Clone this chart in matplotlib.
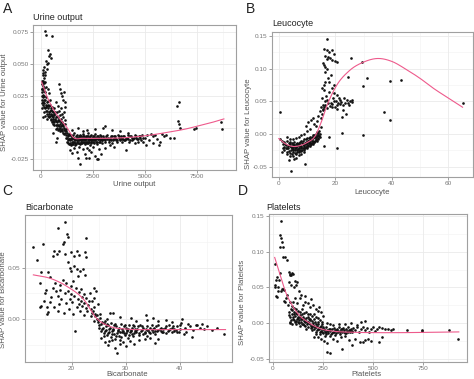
import numpy as np
import matplotlib
matplotlib.use("Agg")
import matplotlib.pyplot as plt

plt.rcParams['font.family'] = ['Liberation Sans', 'DejaVu Sans']

# ---------------- Data ----------------
urine_points = [
    (60,0.037),(80,0.033),(100,0.030),(120,0.026),(90,0.024),(150,0.025),(60,0.022),(110,0.020),(180,0.028),(200,0.022),
    (220,0.018),(130,0.016),(250,0.024),(260,0.016),(280,0.020),(300,0.013),(160,0.012),(320,0.018),(350,0.015),(380,0.011),
    (400,0.017),(420,0.013),(440,0.009),(460,0.015),(480,0.011),(500,0.007),(520,0.013),(540,0.010),(560,0.005),(580,0.012),
    (100,0.008),(200,0.009),(300,0.007),(150,0.035),(250,0.032),(350,0.030),(400,0.027),(450,0.022),(120,0.041),(80,0.045),
    (130,0.048),(200,0.044),(250,0.052),(300,0.046),(170,0.039),(210,0.036),
    (190,0.076),(240,0.073),(510,0.072),(320,0.061),(430,0.058),(400,0.056),(460,0.055),(350,0.051),(270,0.050),(110,0.043),
    (190,0.041),(80,0.037),
    (30,0.034),(40,0.025),(60,0.030),(70,0.019),(100,0.036),(130,0.031),(160,0.029),(50,0.015),
    (50,0.030),(70,0.028),(90,0.018),(140,0.022),(170,0.019),(190,0.015),(230,0.013),(270,0.011),(290,0.017),(330,0.009),
    (360,0.021),(390,0.008),(410,0.012),(430,0.018),(470,0.006),(490,0.014),(510,0.004),(530,0.009),(550,0.016),(570,0.003),
    (590,0.007),(610,0.011),(640,0.002),(660,0.007),(690,0.012),(710,-0.001),(730,0.005),(770,0.009),(790,0.002),(810,-0.002),
    (830,0.008),(860,0.001),(890,0.006),(910,-0.003),(940,0.001),(970,0.007),(990,-0.001),(1020,0.004),(1040,-0.004),(1080,0.003),
    (1120,-0.005),(1140,0.003),(1170,-0.002),(1190,-0.008),(1210,-0.003),(1240,-0.011),(1260,-0.004),(1290,-0.010),(1310,-0.007),(1340,-0.013),
    (600,0.008),(620,0.004),(650,0.010),(680,0.006),(700,0.002),(720,0.008),(750,0.004),(780,0.000),(800,0.006),(820,0.002),
    (850,0.005),(880,-0.001),(900,0.003),(920,0.000),(950,0.004),(980,-0.002),(1000,0.002),(1030,-0.003),(1060,0.001),(1100,-0.002),
    (1130,0.000),(1160,-0.004),(1200,-0.001),(1220,-0.006),(650,0.015),(700,0.020),(750,0.012),(800,0.017),(850,0.013),(900,0.010),
    (950,0.015),(1000,0.011),(1050,0.008),(1100,0.012),(1150,0.006),(900,0.030),(950,0.027),(1000,0.025),(1050,0.022),(1100,0.028),
    (1150,0.020),(880,0.034),(1180,0.016),(700,-0.011),(600,-0.004),(760,-0.008),
    (1250,-0.008),(1300,-0.012),(1350,-0.005),(1400,-0.010),(1450,-0.014),(1500,-0.007),(1550,-0.011),(1600,-0.004),(1650,-0.009),(1700,-0.013),
    (1750,-0.006),(1800,-0.010),(1850,-0.015),(1900,-0.008),(1950,-0.012),(2000,-0.005),(2050,-0.009),(2100,-0.013),(2150,-0.007),(2200,-0.011),
    (2250,-0.004),(2300,-0.009),(2350,-0.014),(2400,-0.006),(2450,-0.010),(2500,-0.008),(2550,-0.012),(2600,-0.005),(2650,-0.009),(2700,-0.013),
    (2750,-0.007),(2800,-0.011),(2850,-0.006),(2900,-0.009),(2950,-0.012),(3000,-0.007),(3100,-0.010),(3200,-0.006),(3300,-0.009),(3400,-0.012),
    (3500,-0.007),(3600,-0.010),(3700,-0.006),(3800,-0.009),(3900,-0.011),(4000,-0.007),(4100,-0.009),(4200,-0.006),(4300,-0.010),(4400,-0.008),
    (4500,-0.006),(4600,-0.009),(4700,-0.007),(4800,-0.010),(4900,-0.008),
    (1280,-0.006),(1330,-0.009),(1380,-0.013),(1430,-0.008),(1480,-0.011),(1530,-0.006),(1580,-0.009),(1630,-0.012),(1680,-0.007),(1730,-0.010),
    (1780,-0.008),(1830,-0.012),(1880,-0.006),(1930,-0.010),(1980,-0.008),(2030,-0.011),(2080,-0.007),(2130,-0.010),(2180,-0.008),(2230,-0.012),
    (2280,-0.007),(2330,-0.010),(2380,-0.008),(2430,-0.011),(2480,-0.007),(2530,-0.010),(2580,-0.008),(2630,-0.011),(2680,-0.007),(2730,-0.009),
    (2780,-0.008),(2830,-0.010),(2880,-0.007),(2930,-0.010),(2980,-0.008),(3050,-0.009),(3150,-0.008),(3250,-0.011),(3350,-0.007),(3450,-0.009),
    (3550,-0.008),(3650,-0.011),(3750,-0.008),(3850,-0.007),(3950,-0.009),(4050,-0.010),(4150,-0.008),(4250,-0.011),(4350,-0.007),(4450,-0.009),
    (4550,-0.008),(4650,-0.011),(4750,-0.007),
    (1360,-0.009),(1390,-0.006),(1410,-0.012),(1440,-0.009),(1460,-0.006),(1490,-0.013),(1510,-0.009),(1540,-0.008),(1560,-0.013),(1590,-0.011),
    (1610,-0.008),(1640,-0.010),(1660,-0.014),(1690,-0.009),(1710,-0.011),(1740,-0.008),(1760,-0.012),(1790,-0.009),(1810,-0.007),(1840,-0.010),
    (1860,-0.013),(1890,-0.009),(1910,-0.011),(1940,-0.007),(1960,-0.010),(1990,-0.012),(2010,-0.009),(2040,-0.007),(2060,-0.011),(2090,-0.009),
    (2110,-0.012),(2140,-0.008),(2160,-0.011),(2190,-0.009),(2210,-0.007),(2240,-0.010),(2260,-0.012),(2290,-0.008),(2310,-0.011),(2340,-0.009),
    (2360,-0.007),(2390,-0.010),(2410,-0.012),(2440,-0.008),(2460,-0.009),(2490,-0.011),(2520,-0.009),(2560,-0.007),(2610,-0.010),(2660,-0.008),
    (2710,-0.011),(2760,-0.009),(2810,-0.008),(2860,-0.011),(2910,-0.008),(2960,-0.010),(3020,-0.008),(3080,-0.011),(3130,-0.007),(3180,-0.009),
    (3230,-0.008),(3280,-0.010),(3330,-0.008),(3380,-0.010),(3430,-0.007),(3480,-0.010),(3530,-0.009),(3580,-0.007),(3630,-0.009),(3680,-0.010),
    (3730,-0.007),(3780,-0.010),(3830,-0.008),(3880,-0.009),(3930,-0.007),(3980,-0.010),(4080,-0.008),(4180,-0.009),(4280,-0.007),(4380,-0.010),
    (4480,-0.008),(4580,-0.007),(4680,-0.009),(4780,-0.008),(4880,-0.006),
    (1400,-0.018),(1500,-0.020),(1600,-0.016),(1750,-0.019),(1900,-0.029),(2000,-0.017),(2100,-0.021),(2200,-0.016),(2300,-0.024),(2400,-0.019),
    (2500,-0.015),(2600,-0.022),(2700,-0.025),(2800,-0.017),(2900,-0.021),(2750,-0.025),(3100,-0.016),(3300,-0.014),(3500,-0.015),(4100,-0.018),
    (4500,-0.012),(1800,-0.024),(2300,-0.018),(2150,-0.024),
    (1500,-0.002),(1800,0.000),(2200,-0.002),(2600,-0.001),(3000,0.000),(3100,0.001),(3400,-0.002),(3800,-0.003),(4200,-0.004),(2000,-0.003),
    (5000,-0.008),(5100,-0.006),(5200,-0.010),(5300,-0.005),(5400,-0.007),(5500,-0.006),(5600,-0.009),(5700,-0.014),(5800,-0.005),(5900,-0.007),
    (6000,-0.006),(6200,-0.008),(6400,-0.008),(6550,0.017),(6660,0.020),(6600,0.005),(6650,0.003),(6700,0.000),(7350,-0.001),(7470,0.000),
    (8650,0.004),(8700,-0.001),(5750,-0.011),(5400,-0.012),(4900,-0.011),(5050,-0.014),
]
urine_curve_x = [30, 250, 575, 1000, 1250, 1530, 2000, 2500, 3000, 4000, 5000, 6000, 7000, 7500, 8000, 8800]
urine_curve_y = [0.036, 0.026, 0.015, 0.005, 0.000, -0.0073, -0.0085, -0.0085, -0.0085, -0.008, -0.0065, -0.004, -0.001, 0.001, 0.003, 0.0068]

leuco_points = [
    (1,-0.010),(1.5,-0.015),(2,-0.012),(2,-0.020),(2.5,-0.017),(3,-0.010),(3,-0.022),(3.5,-0.014),(3.5,-0.026),(4,-0.018),
    (4,-0.012),(4.5,-0.022),(4.5,-0.030),(5,-0.015),(5,-0.020),(5,-0.027),(5.5,-0.018),(5.5,-0.012),(6,-0.022),(6,-0.016),
    (6,-0.030),(6.5,-0.019),(6.5,-0.025),(7,-0.013),(7,-0.021),(7,-0.028),(7.5,-0.017),(7.5,-0.024),(8,-0.010),(8,-0.019),
    (8,-0.026),(8.5,-0.015),(8.5,-0.022),(9,-0.008),(9,-0.017),(9,-0.025),(9.5,-0.012),(9.5,-0.020),(10,-0.006),(10,-0.014),
    (10,-0.022),(10.5,-0.010),(10.5,-0.017),(11,-0.004),(11,-0.012),(11,-0.019),(11.5,-0.008),(11.5,-0.015),(12,-0.002),(12,-0.010),
    (12,-0.016),(12.5,-0.005),(12.5,-0.012),(13,0.000),(13,-0.008),(13.5,-0.003),(13.5,-0.010),(14,0.002),(14,-0.006),(14.5,0.000),
    (2,-0.025),(3,-0.030),(4,-0.034),(5,-0.033),(6,-0.036),(7,-0.032),(8,-0.030),(9,-0.028),(3,-0.005),(4,-0.007),
    (5,-0.008),(6,-0.006),(7,-0.004),(8,-0.002),(9,0.000),(10,0.005),(11,0.008),(9.5,0.012),(10.5,0.018),(11.5,0.022),
    (12,0.025),(12.5,0.015),(13,0.012),(13.5,0.020),(14,0.028),(14.5,0.035),(15,0.025),(14.8,0.042),(15.5,0.045),(15.2,0.055),
    (2.5,-0.022),(3.2,-0.018),(4.2,-0.024),(4.8,-0.018),(5.2,-0.023),(5.8,-0.025),(6.2,-0.020),(6.8,-0.015),(7.2,-0.018),(7.8,-0.020),
    (8.2,-0.014),(8.8,-0.018),(9.2,-0.013),(9.8,-0.016),(10.2,-0.010),(10.8,-0.013),(11.2,-0.009),(11.8,-0.011),(12.2,-0.006),(12.8,-0.004),
    (13.2,-0.005),(13.8,-0.001),(14.2,-0.003),
    (1.5,-0.021),(2.2,-0.016),(2.8,-0.027),(3.3,-0.021),(3.8,-0.016),(3.8,-0.029),(4.3,-0.020),(4.6,-0.014),(4.9,-0.025),(5.3,-0.017),
    (5.6,-0.029),(5.9,-0.021),(6.3,-0.027),(6.6,-0.014),(6.9,-0.023),(7.3,-0.026),(7.6,-0.012),(7.9,-0.022),(8.3,-0.024),(8.6,-0.010),
    (8.9,-0.021),(9.3,-0.022),(9.6,-0.008),(9.9,-0.019),(10.3,-0.019),(10.6,-0.006),(10.9,-0.016),(11.3,-0.015),(11.6,-0.004),(11.9,-0.013),
    (12.3,-0.012),(12.6,-0.001),(12.9,-0.010),(13.3,-0.009),(13.6,0.003),(13.9,-0.007),(14.3,0.005),(14.6,-0.004),(14.9,0.010),(15.2,0.030),
    (15.6,0.038),(16.2,0.050),(17.0,0.040),(19.2,0.055),(20.2,0.050),(21.0,0.048),(22.8,0.045),(24.8,0.045),(19.5,0.075),
    (0.4,-0.008),(0.35,0.034),(4.35,-0.056),(9.4,-0.046),(16.1,-0.018),(17.7,-0.004),(20.7,-0.022),(22.5,0.002),(29.8,-0.0015),(1.3,-0.027),
    (3.5,-0.040),(5.5,-0.038),
    (15.3,0.070),(16.1,0.068),(17.7,0.065),(18.8,0.070),(19.7,0.063),(20.6,0.060),(21.2,0.055),(17.1,0.052),(18.3,0.047),(19.4,0.050),
    (20.6,0.044),(21.8,0.052),(23.0,0.055),(24.1,0.052),(25.3,0.050),(25.9,0.052),(22.7,0.036),(23.6,0.031),(22.4,0.026),(20.6,0.039),
    (18.8,0.041),(16.5,0.044),(16.1,0.041),(15.7,0.036),(16.8,0.058),(17.5,0.047),(18.0,0.043),(19.0,0.046),(19.8,0.042),(21.5,0.046),
    (22.0,0.049),(23.5,0.047),(24.5,0.048),(26.0,0.049),(15.9,0.075),(16.5,0.079),(17.3,0.085),(17.8,0.080),(18.5,0.090),(16.3,0.095),
    (16.9,0.146),(16.1,0.130),(16.9,0.128),(17.7,0.125),(18.8,0.128),(19.4,0.122),(16.3,0.120),(16.9,0.115),(18.8,0.113),(20.6,0.110),
    (16.0,0.105),(16.5,0.102),(17.1,0.100),(17.3,0.118),(18.1,0.116),(19.8,0.111),(15.8,0.108),
    (25.7,0.1155),(29.5,0.110),(24.5,0.0865),(31.3,0.085),(29.9,0.074),(39.4,0.081),(43.2,0.083),(37.1,0.034),(39.4,0.021),(65.1,0.048),
]
leuco_curve_x = [0, 2, 5, 8, 10, 13, 15, 17, 20, 25, 30, 35, 40, 45, 50, 55, 60, 65]
leuco_curve_y = [-0.007, -0.014, -0.019, -0.017, -0.013, -0.002, 0.018, 0.043, 0.071, 0.097, 0.110, 0.1155, 0.111, 0.099, 0.085, 0.069, 0.055, 0.041]

bicarb_points = [
    (18.8,0.094),(17.5,0.088),(19.2,0.083),(19.3,0.080),(18.6,0.075),(18.3,0.073),(22.6,0.079),(12.9,0.070),(14.7,0.073),(13.6,0.0575),
    (16.5,0.061),(16.8,0.066),(17.2,0.063),(17.6,0.066),(18.8,0.063),(19.9,0.065),(20.4,0.061),(21.0,0.066),(21.3,0.062),(22.5,0.065),
    (22.6,0.060),(19.4,0.055),(19.6,0.050),(19.9,0.047),(20.5,0.052),(20.9,0.049),(21.5,0.047),(22.1,0.049),(22.4,0.043),(21.2,0.042),
    (15.7,0.046),(14.4,0.046),(15.9,0.041),(14.2,0.035),(15.0,0.025),(15.2,0.028),(14.2,0.012),(15.5,0.005),
    (16.5,0.030),(17.1,0.027),(17.4,0.023),(18.1,0.020),(18.7,0.025),(19.3,0.027),(19.6,0.020),(20.0,0.017),(20.5,0.023),(21.1,0.020),
    (21.4,0.015),(21.7,0.018),(22.0,0.013),(22.3,0.016),(22.6,0.011),(23.1,0.014),(23.5,0.010),(17.8,0.033),(18.3,0.038),(19.0,0.035),
    (19.8,0.032),(20.3,0.037),(20.8,0.030),(21.3,0.026),(21.8,0.029),(22.2,0.024),(22.7,0.021),(23.3,0.025),(23.8,0.018),(24.2,0.030),
    (24.5,0.027),(24.1,0.021),(24.8,0.015),(16.0,0.017),(16.8,0.012),(17.5,0.008),(18.5,0.006),(19.5,0.010),(20.2,0.005),(20.6,-0.011),
    (21.6,0.008),(22.3,0.004),(14.8,0.018),(16.2,0.022),(15.4,0.012),(14.3,0.013),(15.6,0.0075),(27.7,0.006),
    (23.5,0.003),(23.8,0.006),(24.1,0.012),(22.8,0.008),(23.2,0.018),(21.9,0.022),(20.9,0.012),(19.9,0.024),(18.9,0.016),(17.9,0.028),
    (16.9,0.035),(17.6,0.015),
    (24.0,0.008),(24.3,0.003),(24.6,0.000),(24.9,-0.003),(25.2,0.005),(25.5,-0.005),(25.8,-0.008),(26.1,-0.002),(26.4,-0.010),(26.7,-0.006),
    (27.0,-0.012),(27.3,-0.004),(27.6,-0.009),(27.9,-0.014),(28.2,-0.007),(28.5,-0.011),(28.8,-0.016),(29.1,-0.005),(29.4,-0.009),(29.7,-0.013),
    (30.0,-0.008),(30.3,-0.011),(30.6,-0.006),(30.9,-0.010),(31.2,-0.014),(31.5,-0.007),(31.8,-0.011),(32.1,-0.009),(32.4,-0.013),(32.7,-0.006),
    (33.0,-0.010),(33.3,-0.008),(33.6,-0.012),(33.9,-0.007),(34.2,-0.010),(34.5,-0.013),(34.8,-0.006),(35.1,-0.009),(35.4,-0.011),(35.7,-0.007),
    (36.0,-0.010),(36.5,-0.008),(37.0,-0.012),(37.5,-0.007),(38.0,-0.010),(38.5,-0.008),(39.0,-0.011),(39.5,-0.007),(40.0,-0.009),
    (24.4,0.005),(24.8,-0.001),(25.1,-0.006),(25.4,-0.011),(25.7,-0.003),(26.0,-0.013),(26.3,-0.007),(26.6,-0.015),(26.9,-0.009),(27.2,-0.017),
    (27.5,-0.011),(27.8,-0.006),(28.1,-0.019),(28.4,-0.013),(28.7,-0.008),(29.0,-0.020),(29.3,-0.012),(29.6,-0.007),(29.9,-0.015),(30.2,-0.010),
    (30.5,-0.018),(30.8,-0.012),(31.1,-0.008),(31.4,-0.016),(31.7,-0.009),(32.0,-0.012),(32.5,-0.015),(33.0,-0.007),(33.5,-0.013),(34.0,-0.010),
    (34.5,-0.008),(35.0,-0.012),(35.5,-0.014),(36.0,-0.006),(36.5,-0.011),(37.0,-0.009),(37.5,-0.013),(38.0,-0.006),(38.5,-0.012),(39.0,-0.009),
    (39.5,-0.012),(40.0,-0.006),
    (24.2,-0.002),(24.7,0.004),(25.0,-0.008),(25.3,0.001),(25.6,-0.009),(25.9,-0.004),(26.2,-0.011),(26.5,-0.005),(26.8,-0.013),(27.1,-0.008),
    (27.4,-0.014),(27.7,-0.010),(28.0,-0.005),(28.3,-0.016),(28.6,-0.010),(28.9,-0.012),(29.2,-0.017),(29.5,-0.011),(29.8,-0.006),(30.1,-0.013),
    (30.4,-0.009),(30.7,-0.015),(31.0,-0.011),(31.3,-0.006),(31.6,-0.013),(31.9,-0.010),(32.2,-0.007),(32.8,-0.011),(33.2,-0.014),(33.8,-0.009),
    (34.3,-0.012),(34.8,-0.010),(35.3,-0.008),(35.8,-0.011),(36.3,-0.009),(36.8,-0.012),(37.3,-0.008),(37.8,-0.011),(38.3,-0.009),(38.8,-0.007),
    (39.3,-0.010),(39.8,-0.012),
    (25.5,-0.018),(26.2,-0.022),(26.8,-0.025),(27.5,-0.020),(28.0,-0.028),(28.4,-0.033),(28.9,-0.024),(29.5,-0.022),(30.0,-0.026),(30.8,-0.021),
    (31.5,-0.024),(32.5,-0.020),(33.5,-0.019),(34.5,-0.018),(35.5,-0.023),(36.0,-0.019),(34.0,-0.016),(26.0,-0.016),(27.0,-0.021),
    (27.1,0.006),(33.7,0.004),(26.5,0.000),(29.0,0.002),(31.0,0.001),(32.0,-0.002),(34.0,-0.001),(35.0,0.001),(36.0,-0.002),(37.5,-0.001),
    (38.5,-0.003),
    (40.5,0.0005),(41.0,-0.008),(41.5,-0.005),(42.0,-0.007),(42.3,-0.017),(42.5,-0.010),(43.0,-0.006),(43.3,-0.006),(43.8,-0.008),(44.2,-0.005),
    (44.5,-0.009),(45.0,-0.007),(46.0,-0.010),(47.0,-0.008),(48.3,-0.0145),(41.2,-0.012),(40.3,-0.004),(40.8,-0.014),
]
bicarb_curve_x = [12.9, 16.1, 19.2, 22.3, 24.6, 27.1, 30, 35, 40, 45, 48.5]
bicarb_curve_y = [0.043, 0.0395, 0.0316, 0.0187, 0.001, -0.007, -0.0095, -0.010, -0.010, -0.010, -0.010]

platelet_points = [
    (43,0.143),(35,0.124),(40,0.119),(45,0.113),(35,0.106),(52,0.106),(52,0.093),(60,0.092),(73,0.088),(10,0.083),
    (85,0.069),(90,0.067),(100,0.069),(110,0.0595),(123,0.057),(118,0.053),(10,0.053),(27,0.050),(43,0.045),(52,0.048),
    (18,0.038),(63,0.029),(57,0.031),(22,0.065),(35,0.070),(30,0.060),(10,0.050),(22,0.037),(47,0.048),(55,0.046),
    (80,0.072),(88,0.067),(97,0.070),(80,0.058),(92,0.053),(105,0.050),(15,0.060),(25,0.045),(70,0.040),(65,0.035),
    (143,0.040),(135,0.035),(160,0.030),(175,0.028),(190,0.033),(200,0.025),(215,0.020),(227,0.017),(150,0.025),(120,0.028),
    (110,0.035),(100,0.030),(130,0.045),(160,0.038),(185,0.022),(240,0.015),(230,0.023),(250,0.010),
    (80,0.015),(85,0.008),(90,0.020),(95,0.012),(100,0.005),(105,0.016),(110,0.010),(115,0.003),(120,0.013),(125,0.007),
    (130,0.000),(135,0.011),(140,0.005),(145,-0.002),(150,0.009),(155,0.003),(160,-0.004),(165,0.007),(170,0.001),(175,-0.005),
    (180,0.005),(185,-0.001),(190,-0.007),(195,0.003),(200,-0.003),(205,-0.008),(210,0.001),(215,-0.005),(220,-0.010),(225,-0.002),
    (230,-0.007),(235,-0.012),(240,-0.004),(245,-0.009),(250,-0.014),
    (82,0.011),(92,0.004),(102,0.009),(112,0.001),(122,0.006),(132,0.004),(142,0.001),(152,-0.001),(162,0.002),(172,-0.002),
    (182,0.000),(192,-0.004),(202,0.000),(212,-0.006),(222,-0.004),(232,-0.009),(242,-0.011),(252,-0.006),(88,0.002),(98,-0.002),
    (108,0.012),(118,-0.001),(128,0.009),(138,-0.004),(148,0.013),(158,0.006),(168,-0.008),(178,0.009),(188,0.004),(198,-0.010),
    (208,0.005),(218,-0.013),(228,0.002),(238,-0.016),(248,-0.002),
    (85,0.000),(95,0.018),(105,0.004),(115,0.014),(125,0.001),(135,0.008),(145,0.006),(155,-0.003),(165,0.003),(175,0.002),
    (185,0.006),(195,-0.006),(205,-0.004),(215,-0.002),(225,-0.009),(235,-0.006),(245,-0.013),(258,-0.010),(268,-0.013),(278,-0.011),
    (288,-0.009),(298,-0.014),(308,-0.012),(318,-0.010),(328,-0.013),(338,-0.011),(348,-0.009),(358,-0.012),(368,-0.014),(378,-0.012),
    (388,-0.010),(398,-0.013),(265,-0.016),(285,-0.018),(310,-0.017),(335,-0.016),(78,0.025),(86,0.030),(96,0.024),(106,0.021),
    (116,0.019),(126,0.017),(136,0.015),(146,0.019),(156,0.014),(166,0.016),(176,0.013),(186,0.012),(196,0.010),(206,0.012),
    (216,0.009),(226,0.007),(236,0.004),(246,0.002),
    (205,-0.019),(215,-0.015),(225,-0.020),(240,-0.022),(255,-0.025),(262,-0.018),(270,-0.028),(272,-0.041),(288,-0.0425),(346,-0.037),
    (396,-0.031),(300,-0.022),(320,-0.025),(340,-0.020),(360,-0.018),(380,-0.024),(410,-0.022),(437,-0.026),(450,-0.027),(460,-0.024),
    (475,-0.023),(490,-0.025),(530,-0.026),(545,-0.020),
    (255,-0.008),(260,-0.012),(265,-0.006),(270,-0.010),(275,-0.014),(280,-0.008),(285,-0.011),(290,-0.016),(295,-0.009),(300,-0.012),
    (305,-0.007),(310,-0.010),(315,-0.014),(320,-0.008),(325,-0.011),(330,-0.006),(335,-0.013),(340,-0.009),(345,-0.012),(350,-0.007),
    (355,-0.010),(360,-0.014),(365,-0.008),(370,-0.011),(375,-0.006),(380,-0.010),(385,-0.013),(390,-0.008),(395,-0.011),(400,-0.007),
    (410,-0.010),(420,-0.006),(430,-0.012),(440,-0.008),(450,-0.005),(460,-0.010),(470,-0.007),(480,-0.012),(490,-0.009),(500,-0.006),
    (510,-0.011),(520,-0.008),(530,-0.005),(545,-0.007),(560,-0.009),(575,-0.008),(590,-0.010),(603,-0.008),
    (300,-0.003),(330,-0.001),(360,-0.002),(390,0.000),(420,-0.003),(440,0.001),(460,0.003),(270,0.000),(285,-0.002),
    (670,-0.0098),(745,-0.0098),(745,-0.011),(883,-0.0098),(928,-0.0224),
]
platelet_curve_x = [10, 43, 68, 93, 127, 177, 243, 310, 400, 500, 650, 800, 930]
platelet_curve_y = [0.092, 0.062, 0.041, 0.027, 0.0126, 0.001, -0.0084, -0.0117, -0.013, -0.0135, -0.0135, -0.013, -0.0125]

panels = [
    dict(letter="A", title="Urine output", xlabel="Urine output", ylabel="SHAP value for Urine output",
         pts=urine_points, cx=urine_curve_x, cy=urine_curve_y,
         box=(33, 236, 25, 170), xlim=(-383, 9382), ylim=(-0.0334, 0.0807),
         xt=[0, 2500, 5000, 7500], xtl=["0", "2500", "5000", "7500"],
         yt=[-0.025, 0.0, 0.025, 0.05, 0.075], ytl=["-0.025", "0.000", "0.025", "0.050", "0.075"],
         xminor=[1250, 3750, 6250, 8750], yminor=[-0.0125, 0.0125, 0.0375, 0.0625],
         letter_pos=(3, 9), title_pos=(33, 17), xlab_pos=(134, 185), ylab_pos=(5, 102)),
    dict(letter="B", title="Leucocyte", xlabel="Leucocyte", ylabel="SHAP value for Leucocyte",
         pts=leuco_points, cx=leuco_curve_x, cy=leuco_curve_y,
         box=(272, 473, 32, 177), xlim=(-2.4, 68.7), ylim=(-0.0657, 0.156),
         xt=[0, 20, 40, 60], xtl=["0", "20", "40", "60"],
         yt=[-0.05, 0.0, 0.05, 0.10, 0.15], ytl=["-0.05", "0.00", "0.05", "0.10", "0.15"],
         xminor=[10, 30, 50], yminor=[-0.025, 0.025, 0.075, 0.125],
         letter_pos=(246, 9), title_pos=(272, 24), xlab_pos=(372, 192), ylab_pos=(248, 124)),
    dict(letter="C", title="Bicarbonate", xlabel="Bicarbonate", ylabel="SHAP value for Bicarbonate",
         pts=bicarb_points, cx=bicarb_curve_x, cy=bicarb_curve_y,
         box=(25, 232, 215, 362), xlim=(11.35, 49.7), ylim=(-0.0414, 0.101),
         xt=[20, 30, 40], xtl=["20", "30", "40"],
         yt=[0.0, 0.05], ytl=["0.00", "0.05"],
         xminor=[15, 25, 35, 45], yminor=[-0.025, 0.025, 0.075],
         letter_pos=(2, 191), title_pos=(25, 208), xlab_pos=(127, 375), ylab_pos=(4, 300)),
    dict(letter="D", title="Platelets", xlabel="Platelets", ylabel="SHAP value for Platelets",
         pts=platelet_points, cx=platelet_curve_x, cy=platelet_curve_y,
         box=(268.7, 467, 214, 361.7), xlim=(-20, 971), ylim=(-0.0543, 0.153),
         xt=[0, 250, 500, 750], xtl=["0", "250", "500", "750"],
         yt=[-0.05, 0.0, 0.05, 0.10, 0.15], ytl=["-0.05", "0.00", "0.05", "0.10", "0.15"],
         xminor=[125, 375, 625, 875], yminor=[-0.025, 0.025, 0.075, 0.125],
         letter_pos=(238, 191), title_pos=(266, 207), xlab_pos=(366, 375), ylab_pos=(242, 302)),
]

W, H = 474, 379
fig = plt.figure(figsize=(W / 100, H / 100), dpi=100)
fig.patch.set_facecolor("white")


def hermite(kx, ky, n=300):
    kx = np.asarray(kx, float)
    ky = np.asarray(ky, float)
    m = np.gradient(ky, kx)
    xs = np.linspace(kx[0], kx[-1], n)
    i = np.clip(np.searchsorted(kx, xs) - 1, 0, len(kx) - 2)
    h = kx[i + 1] - kx[i]
    t = (xs - kx[i]) / h
    h00 = 2 * t**3 - 3 * t**2 + 1
    h10 = t**3 - 2 * t**2 + t
    h01 = -2 * t**3 + 3 * t**2
    h11 = t**3 - t**2
    ys = h00 * ky[i] + h10 * h * m[i] + h01 * ky[i + 1] + h11 * h * m[i + 1]
    return xs, ys


def fx(px):
    return px / W


def fy(py):
    return 1 - py / H


for p in panels:
    l, r, t, b = p["box"]
    ax = fig.add_axes([l / W, 1 - b / H, (r - l) / W, (b - t) / H])
    ax.set_facecolor("white")
    ax.set_xlim(*p["xlim"])
    ax.set_ylim(*p["ylim"])
    for v in p["xminor"]:
        ax.axvline(v, color="#F2F2F2", lw=0.4, zorder=0)
    for v in p["yminor"]:
        ax.axhline(v, color="#F2F2F2", lw=0.4, zorder=0)
    for v in p["xt"]:
        ax.axvline(v, color="#EAEAEA", lw=0.6, zorder=0)
    for v in p["yt"]:
        ax.axhline(v, color="#EAEAEA", lw=0.6, zorder=0)
    xs = [q[0] for q in p["pts"]]
    ys = [q[1] for q in p["pts"]]
    ax.scatter(xs, ys, s=3.6, c="#111111", linewidths=0, zorder=2)
    cx, cy = hermite(p["cx"], p["cy"])
    ax.plot(cx, cy, color="#EE5A8C", lw=0.8, zorder=3)
    ax.set_xticks(p["xt"])
    ax.set_xticklabels(p["xtl"])
    ax.set_yticks(p["yt"])
    ax.set_yticklabels(p["ytl"])
    ax.tick_params(axis="both", labelsize=4.6, colors="#777777", length=2, width=0.5, pad=1.2)
    for s in ax.spines.values():
        s.set_color("#A0A0A0")
        s.set_linewidth(0.8)
    fig.text(fx(p["letter_pos"][0]), fy(p["letter_pos"][1]), p["letter"], fontsize=10,
             color="#222222", ha="left", va="center")
    fig.text(fx(p["title_pos"][0]), fy(p["title_pos"][1]), p["title"], fontsize=6.5,
             color="#222222", ha="left", va="center")
    fig.text(fx(p["xlab_pos"][0]), fy(p["xlab_pos"][1]), p["xlabel"], fontsize=5.6,
             color="#555555", ha="center", va="center")
    fig.text(fx(p["ylab_pos"][0]), fy(p["ylab_pos"][1]), p["ylabel"], fontsize=5.6,
             color="#555555", ha="center", va="center", rotation=90)

fig.savefig("out.png", dpi=100, facecolor="white")
